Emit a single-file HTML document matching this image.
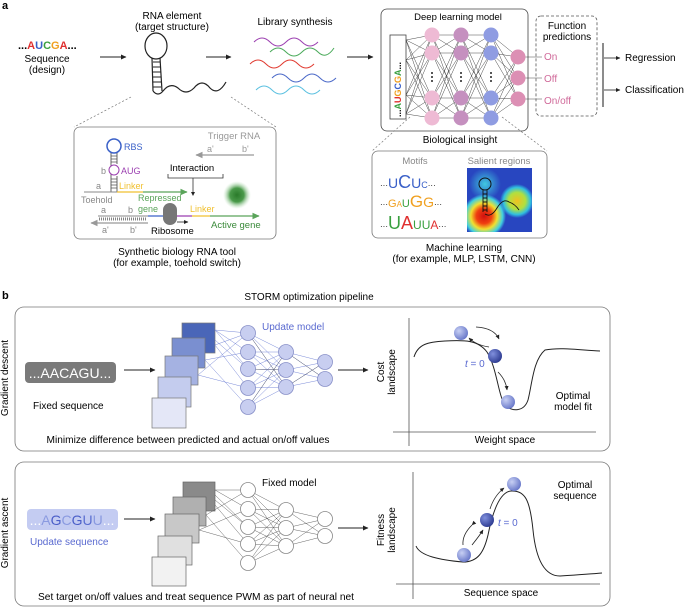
<!DOCTYPE html>
<html><head><meta charset="utf-8"><style>
html,body{margin:0;padding:0;background:#fff}
svg{display:block;font-family:"Liberation Sans",Arial,sans-serif}
</style></head><body>
<svg width="685" height="607" viewBox="0 0 685 607" xmlns="http://www.w3.org/2000/svg">
<defs>
<marker id="ah" markerWidth="6" markerHeight="6" refX="5" refY="3" orient="auto"><path d="M0,0.5 L5.5,3 L0,5.5z" fill="#222"/></marker>
<marker id="ahg" markerWidth="6" markerHeight="6" refX="5" refY="3" orient="auto"><path d="M0,0.5 L5.5,3 L0,5.5z" fill="#999"/></marker>
<marker id="ahgr" markerWidth="6" markerHeight="6" refX="5" refY="3" orient="auto"><path d="M0,0.5 L5.5,3 L0,5.5z" fill="#5aa45a"/></marker>
<radialGradient id="ball" cx="0.35" cy="0.35" r="0.7"><stop offset="0" stop-color="#c8d0f4"/><stop offset="1" stop-color="#6676c8"/></radialGradient>
<radialGradient id="ball2" cx="0.35" cy="0.35" r="0.7"><stop offset="0" stop-color="#8090dd"/><stop offset="1" stop-color="#2c3a90"/></radialGradient>
<radialGradient id="hot" cx="0.5" cy="0.5" r="0.5"><stop offset="0" stop-color="#d01010"/><stop offset="0.35" stop-color="#f04010"/><stop offset="0.6" stop-color="#f0e030"/><stop offset="0.85" stop-color="#40d0e0"/><stop offset="1" stop-color="#40d0e0" stop-opacity="0"/></radialGradient>
<radialGradient id="warm" cx="0.5" cy="0.5" r="0.5"><stop offset="0" stop-color="#f0c020"/><stop offset="0.5" stop-color="#b0e040"/><stop offset="0.8" stop-color="#30c0e0"/><stop offset="1" stop-color="#30c0e0" stop-opacity="0"/></radialGradient>
<radialGradient id="cool" cx="0.5" cy="0.5" r="0.5"><stop offset="0" stop-color="#40c8e0"/><stop offset="1" stop-color="#40c8e0" stop-opacity="0"/></radialGradient>
<radialGradient id="prot" cx="0.5" cy="0.5" r="0.5"><stop offset="0" stop-color="#2a7a2a"/><stop offset="0.5" stop-color="#4a9a4a"/><stop offset="1" stop-color="#bfe3bf" stop-opacity="0"/></radialGradient>
</defs>

<!-- ===== Panel a ===== -->
<text x="2" y="9" font-size="11" font-weight="bold">a</text>
<text x="18" y="49" font-size="11" font-weight="bold"><tspan>...</tspan><tspan fill="#e03030">A</tspan><tspan fill="#3a60c8">U</tspan><tspan fill="#3aa040">C</tspan><tspan fill="#f0a020">G</tspan><tspan fill="#e03030">A</tspan><tspan>...</tspan></text>
<text x="47" y="62" font-size="10" text-anchor="middle">Sequence</text>
<text x="47" y="73" font-size="10" text-anchor="middle">(design)</text>
<line x1="100" y1="57" x2="126" y2="57" stroke="#222" stroke-width="1" marker-end="url(#ah)"/>

<text x="172" y="19" font-size="10" text-anchor="middle">RNA element</text>
<text x="172" y="30" font-size="10" text-anchor="middle">(target structure)</text>
<ellipse cx="156" cy="46" rx="11" ry="13" fill="none" stroke="#222" stroke-width="1.2"/>
<path d="M152,58 L153,91 M160,58 L162,91" stroke="#222" stroke-width="1.2" fill="none"/>
<path d="M153,62h7M153,67h7M153,72h8M153,77h8M153,82h8M153,87h8" stroke="#222" stroke-width="1"/>
<path d="M153,91 Q158,97 163,91 Q170,82 178,88 Q186,96 194,88 Q202,78 210,88 Q218,96 226,82" stroke="#222" stroke-width="1.2" fill="none"/>
<line x1="206" y1="57" x2="231" y2="57" stroke="#222" stroke-width="1" marker-end="url(#ah)"/>

<text x="295" y="25" font-size="10" text-anchor="middle">Library synthesis</text>
<path d="M254,42 q8,-8 16,0 t16,0 t16,0 t16,0" stroke="#9b3fb0" fill="none" stroke-width="1"/>
<path d="M270,52 q8,-8 16,0 t16,0 t16,0 t16,-4" stroke="#4aaa5a" fill="none" stroke-width="1"/>
<path d="M250,64 q8,-8 16,0 t16,0 t16,0 t16,0" stroke="#e03a30" fill="none" stroke-width="1"/>
<path d="M272,78 q8,-8 16,0 t16,0 t16,0 t16,0" stroke="#4a68c8" fill="none" stroke-width="1"/>
<path d="M256,90 q8,-8 16,0 t16,0 t16,0 t16,0" stroke="#5ac0e0" fill="none" stroke-width="1"/>
<line x1="347" y1="57" x2="373" y2="57" stroke="#222" stroke-width="1" marker-end="url(#ah)"/>

<!-- DL box -->
<rect x="381" y="9" width="147" height="122" rx="6" fill="#fff" stroke="#444" stroke-width="0.8"/>
<text x="458" y="20" font-size="9.5" text-anchor="middle">Deep learning model</text>
<rect x="390" y="35" width="16" height="84" fill="#fff" stroke="#444" stroke-width="0.8"/>
<text transform="translate(401,117) rotate(-90)" font-size="9" font-weight="bold"><tspan>...</tspan><tspan fill="#3aa040">A</tspan><tspan fill="#e03030">U</tspan><tspan fill="#f0a020">G</tspan><tspan fill="#3a60c8">C</tspan><tspan fill="#f0a020">G</tspan><tspan fill="#3aa040">A</tspan><tspan>...</tspan></text>
<g stroke="#333" stroke-width="0.45">
<path d="M406,40L432,35M406,40L432,53M406,40L432,98M406,40L432,118M406,60L432,35M406,60L432,53M406,60L432,98M406,60L432,118M406,95L432,35M406,95L432,53M406,95L432,98M406,95L432,118M406,114L432,35M406,114L432,53M406,114L432,98M406,114L432,118"/>
<path d="M432,35L461,35M432,35L461,53M432,35L461,98M432,35L461,118M432,53L461,35M432,53L461,53M432,53L461,98M432,53L461,118M432,98L461,35M432,98L461,53M432,98L461,98M432,98L461,118M432,118L461,35M432,118L461,53M432,118L461,98M432,118L461,118"/>
<path d="M461,35L491,35M461,35L491,53M461,35L491,98M461,35L491,118M461,53L491,35M461,53L491,53M461,53L491,98M461,53L491,118M461,98L491,35M461,98L491,53M461,98L491,98M461,98L491,118M461,118L491,35M461,118L491,53M461,118L491,98M461,118L491,118"/>
<path d="M491,35L518,57M491,35L518,78M491,35L518,99M491,53L518,57M491,53L518,78M491,53L518,99M491,98L518,57M491,98L518,78M491,98L518,99M491,118L518,57M491,118L518,78M491,118L518,99"/>
<path d="M518,57L542,57M518,78L542,78M518,99L542,99"/>
</g>
<g fill="#eebad4"><circle cx="432" cy="35" r="7.5"/><circle cx="432" cy="53" r="7.5"/><circle cx="432" cy="98" r="7.5"/><circle cx="432" cy="118" r="7.5"/></g>
<g fill="#c590bf"><circle cx="461" cy="35" r="7.5"/><circle cx="461" cy="53" r="7.5"/><circle cx="461" cy="98" r="7.5"/><circle cx="461" cy="118" r="7.5"/></g>
<g fill="#8f9ce2"><circle cx="491" cy="35" r="7.5"/><circle cx="491" cy="53" r="7.5"/><circle cx="491" cy="98" r="7.5"/><circle cx="491" cy="118" r="7.5"/></g>
<g fill="#dc8fb4"><circle cx="518" cy="57" r="7.5"/><circle cx="518" cy="78" r="7.5"/><circle cx="518" cy="99" r="7.5"/></g>
<g fill="#222"><circle cx="432" cy="73" r="1"/><circle cx="432" cy="77" r="1"/><circle cx="432" cy="81" r="1"/><circle cx="461" cy="73" r="1"/><circle cx="461" cy="77" r="1"/><circle cx="461" cy="81" r="1"/><circle cx="491" cy="73" r="1"/><circle cx="491" cy="77" r="1"/><circle cx="491" cy="81" r="1"/></g>

<rect x="536" y="16" width="61" height="100" rx="5" fill="none" stroke="#555" stroke-width="0.8" stroke-dasharray="3,2"/>
<text x="567" y="29" font-size="10" text-anchor="middle">Function</text>
<text x="567" y="40" font-size="10" text-anchor="middle">predictions</text>
<text x="544" y="60" font-size="10" fill="#d06a9a">On</text>
<text x="544" y="82" font-size="10" fill="#d06a9a">Off</text>
<text x="544" y="104" font-size="10" fill="#d06a9a">On/off</text>
<line x1="603" y1="43" x2="603" y2="107" stroke="#666" stroke-width="1.5"/>
<line x1="604" y1="58" x2="620" y2="58" stroke="#222" stroke-width="0.8" marker-end="url(#ah)"/>
<line x1="604" y1="90" x2="620" y2="90" stroke="#222" stroke-width="0.8" marker-end="url(#ah)"/>
<text x="625" y="61" font-size="10">Regression</text>
<text x="625" y="93" font-size="10">Classification</text>
<text x="460" y="143" font-size="10" text-anchor="middle">Biological insight</text>

<!-- left zoom box -->
<path d="M131,97L74,127M231,97L276,127" stroke="#777" stroke-width="0.7" stroke-dasharray="2,2"/>
<rect x="74" y="127" width="202" height="112" rx="6" fill="#fff" stroke="#777" stroke-width="0.8"/>
<text x="234" y="139" font-size="9.5" fill="#999" text-anchor="middle">Trigger RNA</text>
<circle cx="114" cy="146" r="7" fill="none" stroke="#3a60c8" stroke-width="1.5"/>
<text x="124" y="150" font-size="9" fill="#3a60c8">RBS</text>
<path d="M111,153V192M117,153V164M117,176V192" stroke="#555" stroke-width="0.9"/>
<path d="M111,156h6M111,159h6M111,162h6M111,179h6M111,182h6M111,185h6M111,188h6" stroke="#555" stroke-width="0.8"/>
<circle cx="114" cy="170" r="5" fill="#fff" stroke="#9b3fb0" stroke-width="1"/>
<text x="101" y="174" font-size="9" fill="#888">b</text>
<text x="121" y="174" font-size="9" fill="#9b3fb0">AUG</text>
<text x="96" y="189" font-size="9" fill="#888">a</text>
<text x="119" y="189" font-size="9" fill="#f0c030">Linker</text>
<text x="81" y="203" font-size="9" fill="#888">Toehold</text>
<line x1="84" y1="192" x2="117" y2="192" stroke="#888" stroke-width="1"/>
<line x1="117" y1="192" x2="143" y2="192" stroke="#f0c030" stroke-width="1.3"/>
<line x1="143" y1="192" x2="187" y2="192" stroke="#5aa45a" stroke-width="1.3" marker-end="url(#ahgr)"/>
<line x1="254" y1="155" x2="196" y2="155" stroke="#999" stroke-width="1.3" marker-end="url(#ahg)"/>
<text x="207" y="152" font-size="9" fill="#999">a'</text>
<text x="242" y="152" font-size="9" fill="#999">b'</text>
<text x="192" y="171" font-size="9.5" text-anchor="middle">Interaction</text>
<path d="M168,174 v4 h55 v-4 M193,178 v17" stroke="#333" stroke-width="0.8" fill="none"/>
<path d="M193,196 l-2,-4 h4z" fill="#222"/>
<text x="138" y="201" font-size="9" fill="#5aa45a">Repressed</text>
<text x="138" y="212" font-size="9" fill="#5aa45a">gene</text>
<circle cx="237" cy="195" r="14" fill="url(#prot)"/>
<text x="101" y="213" font-size="9" fill="#888">a</text>
<text x="128" y="213" font-size="9" fill="#888">b</text>
<line x1="98" y1="216" x2="148" y2="216" stroke="#888" stroke-width="1"/>
<path d="M99,219h48" stroke="#666" stroke-width="3" stroke-dasharray="0.8,1.2"/>
<line x1="148" y1="223" x2="91" y2="223" stroke="#999" stroke-width="1.3" marker-end="url(#ahg)"/>
<text x="102" y="233" font-size="9" fill="#888">a'</text>
<text x="130" y="233" font-size="9" fill="#888">b'</text>
<line x1="148" y1="216" x2="165" y2="216" stroke="#3a60c8" stroke-width="1.3"/>
<line x1="175" y1="216" x2="192" y2="216" stroke="#9b3fb0" stroke-width="1.3"/>
<line x1="192" y1="216" x2="210" y2="216" stroke="#f0c030" stroke-width="1.3"/>
<line x1="210" y1="216" x2="259" y2="216" stroke="#5aa45a" stroke-width="1.3" marker-end="url(#ahgr)"/>
<text x="190" y="212" font-size="9" fill="#f0c030">Linker</text>
<path d="M163,210 a7,7 0 0 1 14,0 v8 a7,7 0 0 1 -14,0z" fill="#777"/>
<line x1="177" y1="222" x2="188" y2="222" stroke="#222" stroke-width="0.8" marker-end="url(#ah)"/>
<text x="151" y="234" font-size="9.5">Ribosome</text>
<text x="211" y="228" font-size="9.5" fill="#3a8a3a">Active gene</text>
<text x="177" y="255" font-size="10" text-anchor="middle">Synthetic biology RNA tool</text>
<text x="177" y="266" font-size="10" text-anchor="middle">(for example, toehold switch)</text>

<!-- right zoom box -->
<path d="M410,117L372,151M502,117L547,151" stroke="#777" stroke-width="0.7" stroke-dasharray="2,2"/>
<rect x="372" y="151" width="175" height="87" rx="6" fill="#fff" stroke="#777" stroke-width="0.8"/>
<text x="415" y="164" font-size="9.5" fill="#888" text-anchor="middle">Motifs</text>
<text x="499" y="164" font-size="9.5" fill="#888" text-anchor="middle">Salient regions</text>
<g font-family="Liberation Sans Narrow,Liberation Sans,sans-serif">
<text x="380" y="188" font-size="8">···<tspan fill="#3a60c8" font-size="14">U</tspan><tspan fill="#3a60c8" font-size="18">C</tspan><tspan fill="#3a60c8" font-size="14">U</tspan><tspan fill="#3a60c8" font-size="9">C</tspan>···</text>
<text x="380" y="207" font-size="8">···<tspan fill="#f0a020" font-size="11">G</tspan><tspan fill="#f0a020" font-size="8">A</tspan><tspan fill="#3aa040" font-size="11">U</tspan><tspan fill="#f0a020" font-size="17">G</tspan><tspan fill="#f0a020" font-size="14">G</tspan>···</text>
<text x="380" y="229" font-size="8">···<tspan fill="#3aa040" font-size="18">U</tspan><tspan fill="#e03030" font-size="18">A</tspan><tspan fill="#3aa040" font-size="12">U</tspan><tspan fill="#3aa040" font-size="12">U</tspan><tspan fill="#e03030" font-size="12">A</tspan>···</text>
</g>
<svg x="467" y="168" width="65" height="64" overflow="hidden">
<rect width="65" height="64" fill="#2846c0"/>
<circle cx="18" cy="16" r="16" fill="url(#cool)"/>
<circle cx="50" cy="33" r="17" fill="url(#warm)"/>
<circle cx="17" cy="48" r="22" fill="url(#hot)"/>
<circle cx="18" cy="16" r="6" fill="none" stroke="#111" stroke-width="1"/>
<path d="M16,22V44M20,22V44M16,26h4M16,30h4M16,34h4M16,38h4M16,42h4M18,46q6,4 12,-6t12,-6q6,2 10,8" stroke="#111" stroke-width="0.9" fill="none"/>
</svg>
<text x="464" y="251" font-size="10" text-anchor="middle">Machine learning</text>
<text x="464" y="262" font-size="10" text-anchor="middle">(for example, MLP, LSTM, CNN)</text>

<!-- ===== Panel b ===== -->
<text x="2" y="299" font-size="11" font-weight="bold">b</text>
<text x="309" y="300" font-size="10" text-anchor="middle">STORM optimization pipeline</text>

<rect x="15" y="307" width="595" height="144" rx="9" fill="#fff" stroke="#777" stroke-width="0.8"/>
<text transform="translate(8,378) rotate(-90)" font-size="10" text-anchor="middle">Gradient descent</text>
<rect x="25" y="362" width="91" height="21" rx="4" fill="#7a7a7a"/>
<text x="70" y="378" font-size="14" fill="#fff" text-anchor="middle">...AACAGU...</text>
<text x="33" y="409" font-size="10">Fixed sequence</text>
<line x1="124" y1="370" x2="155" y2="370" stroke="#222" stroke-width="1" marker-end="url(#ah)"/>
<g stroke="#777" stroke-width="0.7">
<rect x="182" y="323" width="33" height="30" fill="#4a66b8"/>
<rect x="172" y="338" width="33" height="30" fill="#7a8fd0"/>
<rect x="165" y="356" width="33" height="29" fill="#a5b2e2"/>
<rect x="158" y="377" width="33" height="30" fill="#c4ccee"/>
<rect x="152" y="398" width="34" height="30" fill="#e4e7f7"/>
</g>
<g stroke="#7a8ad8" stroke-width="0.5">
<path d="M215,330L248,333M215,330L248,352M215,330L248,369M215,345L248,333M215,345L248,388M205,360L248,352M205,360L248,407M215,340L248,369M198,375L248,333M198,375L248,388"/>
<path d="M248,333L286,352M248,333L286,370M248,333L286,387M248,352L286,352M248,352L286,370M248,352L286,387M248,369L286,352M248,369L286,370M248,369L286,387M248,388L286,352M248,388L286,370M248,388L286,387M248,407L286,352M248,407L286,370M248,407L286,387"/>
<path d="M286,352L325,362M286,352L325,379M286,370L325,362M286,370L325,379M286,387L325,362M286,387L325,379"/>
</g>
<g stroke="#555" stroke-width="0.4">
<path d="M248,333L286,387M248,407L286,352M248,369L286,370M286,352L325,379M286,387L325,362"/>
</g>
<g fill="#c8cef0" stroke="#8890c8" stroke-width="0.8">
<circle cx="248" cy="333" r="7.5"/><circle cx="248" cy="352" r="7.5"/><circle cx="248" cy="369" r="7.5"/><circle cx="248" cy="388" r="7.5"/><circle cx="248" cy="407" r="7.5"/>
<circle cx="286" cy="352" r="7.5"/><circle cx="286" cy="370" r="7.5"/><circle cx="286" cy="387" r="7.5"/>
<circle cx="325" cy="362" r="7.5"/><circle cx="325" cy="379" r="7.5"/>
</g>
<text x="262" y="330" font-size="10" fill="#5a6ad0">Update model</text>
<line x1="338" y1="370" x2="368" y2="370" stroke="#222" stroke-width="1" marker-end="url(#ah)"/>
<text transform="translate(384,372) rotate(-90)" font-size="10" text-anchor="middle">Cost</text>
<text transform="translate(395,372) rotate(-90)" font-size="10" text-anchor="middle">landscape</text>
<path d="M409,318V446M393,432H596" stroke="#555" stroke-width="0.8"/>
<path d="M414,357 C418,344 428,342 445,341 C465,340 478,340 487,352 C497,368 498,395 505,405 C512,412 524,412 528,400 C532,385 533,360 545,350 C560,347 580,350 600,351" stroke="#222" stroke-width="1" fill="none"/>
<circle cx="461" cy="333" r="7" fill="url(#ball)"/>
<circle cx="495" cy="356" r="7" fill="url(#ball2)"/>
<circle cx="508" cy="402" r="7" fill="url(#ball)"/>
<path d="M476,327 Q494,328 499,339" stroke="#222" stroke-width="0.8" fill="none" marker-end="url(#ah)"/>
<path d="M489,347 Q476,345 469,338" stroke="#222" stroke-width="0.8" fill="none" marker-end="url(#ah)"/>
<path d="M498,372 Q506,380 507,390" stroke="#222" stroke-width="0.8" fill="none" marker-end="url(#ah)"/>
<text x="465" y="367" font-size="10" fill="#5a6ad0"><tspan font-style="italic">t</tspan> = 0</text>
<text x="573" y="399" font-size="10" text-anchor="middle">Optimal</text>
<text x="573" y="410" font-size="10" text-anchor="middle">model fit</text>
<text x="505" y="443" font-size="10" text-anchor="middle">Weight space</text>
<text x="188" y="443" font-size="10" text-anchor="middle" textLength="283" lengthAdjust="spacingAndGlyphs">Minimize difference between predicted and actual on/off values</text>

<rect x="15" y="462" width="595" height="144" rx="9" fill="#fff" stroke="#777" stroke-width="0.8"/>
<text transform="translate(8,533) rotate(-90)" font-size="10" text-anchor="middle">Gradient ascent</text>
<rect x="27" y="509" width="91" height="21" rx="4" fill="#c4ccf2"/>
<text x="72" y="525" font-size="14" text-anchor="middle"><tspan fill="#fff">...</tspan><tspan fill="#8a9ae0">A</tspan><tspan fill="#4a5ec8">G</tspan><tspan fill="#8a9ae0">C</tspan><tspan fill="#4a5ec8">G</tspan><tspan fill="#5a6ed0">U</tspan><tspan fill="#8a9ae0">U</tspan><tspan fill="#fff">...</tspan></text>
<text x="30" y="545" font-size="10" fill="#5a6ad0">Update sequence</text>
<line x1="124" y1="519" x2="155" y2="519" stroke="#222" stroke-width="1" marker-end="url(#ah)"/>
<g stroke="#666" stroke-width="0.7">
<rect x="183" y="482" width="32" height="29" fill="#8a8a8a"/>
<rect x="173" y="497" width="33" height="29" fill="#b0b0b0"/>
<rect x="165" y="514" width="34" height="29" fill="#c8c8c8"/>
<rect x="158" y="536" width="34" height="29" fill="#e0e0e0"/>
<rect x="152" y="557" width="34" height="29" fill="#f2f2f2"/>
</g>
<g stroke="#555" stroke-width="0.45">
<path d="M215,490L248,490M215,490L248,509M215,500L248,527M215,505L248,544M206,515L248,490M206,515L248,563M199,530L248,509M199,530L248,544M215,495L248,527"/>
<path d="M248,490L286,510M248,490L286,528M248,490L286,546M248,509L286,510M248,509L286,528M248,509L286,546M248,527L286,510M248,527L286,528M248,527L286,546M248,544L286,510M248,544L286,528M248,544L286,546M248,563L286,510M248,563L286,528M248,563L286,546"/>
<path d="M286,510L325,519M286,510L325,536M286,528L325,519M286,528L325,536M286,546L325,519M286,546L325,536"/>
</g>
<g fill="#fff" stroke="#888" stroke-width="0.8">
<circle cx="248" cy="490" r="7.5"/><circle cx="248" cy="509" r="7.5"/><circle cx="248" cy="527" r="7.5"/><circle cx="248" cy="544" r="7.5"/><circle cx="248" cy="563" r="7.5"/>
<circle cx="286" cy="510" r="7.5"/><circle cx="286" cy="528" r="7.5"/><circle cx="286" cy="546" r="7.5"/>
<circle cx="325" cy="519" r="7.5"/><circle cx="325" cy="536" r="7.5"/>
</g>
<text x="262" y="486" font-size="10">Fixed model</text>
<line x1="338" y1="528" x2="368" y2="528" stroke="#222" stroke-width="1" marker-end="url(#ah)"/>
<text transform="translate(384,530) rotate(-90)" font-size="10" text-anchor="middle">Fitness</text>
<text transform="translate(395,530) rotate(-90)" font-size="10" text-anchor="middle">landscape</text>
<path d="M413,472V599M396,584H600" stroke="#555" stroke-width="0.8"/>
<path d="M416,546 C420,556 440,560 463,562 C478,562 484,552 488,535 C493,510 500,492 511,491 C525,490 530,500 533,530 C536,560 545,576 560,576 C575,575 590,574 602,573" stroke="#222" stroke-width="1" fill="none"/>
<circle cx="464" cy="555" r="7" fill="url(#ball)"/>
<circle cx="487" cy="520" r="7" fill="url(#ball2)"/>
<circle cx="514" cy="484" r="7" fill="url(#ball)"/>
<path d="M472,545 Q480,535 483,530" stroke="#222" stroke-width="0.8" fill="none" marker-end="url(#ah)"/>
<path d="M472,525 Q462,535 463,545" stroke="#222" stroke-width="0.8" fill="none" marker-start="url(#ah)"/>
<path d="M490,509 Q494,496 504,488" stroke="#222" stroke-width="0.8" fill="none" marker-end="url(#ah)"/>
<text x="498" y="526" font-size="10" fill="#5a6ad0"><tspan font-style="italic">t</tspan> = 0</text>
<text x="575" y="488" font-size="10" text-anchor="middle">Optimal</text>
<text x="575" y="499" font-size="10" text-anchor="middle">sequence</text>
<text x="501" y="596" font-size="10" text-anchor="middle">Sequence space</text>
<text x="196" y="600" font-size="10" text-anchor="middle" textLength="316" lengthAdjust="spacingAndGlyphs">Set target on/off values and treat sequence PWM as part of neural net</text>
</svg>
</body></html>
